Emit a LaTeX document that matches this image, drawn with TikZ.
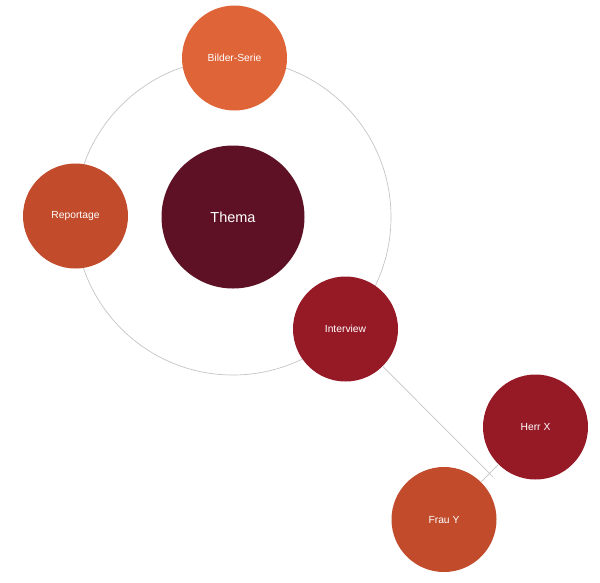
\documentclass[tikz,border=0pt]{standalone}
\usepackage{fontspec}
\setmainfont{Liberation Sans}
\definecolor{cThema}{HTML}{5E1124}
\definecolor{cBilder}{HTML}{DF6438}
\definecolor{cRep}{HTML}{C14B2B}
\definecolor{cInt}{HTML}{961A26}
\definecolor{cLine}{HTML}{C4C4C4}
\begin{document}
\begin{tikzpicture}[x=1pt,y=-1pt,
  bubble/.style={circle,inner sep=0pt,minimum size=105pt,text=white,font=\fontsize{10.3}{12}\selectfont},
  link/.style={draw=cLine,line width=0.7pt}]
\useasboundingbox (0,0) rectangle (600,582);
\coordinate (ctr) at (233,217);
\draw[link] (ctr) circle[radius=158];
\coordinate (junc) at (493,477);
\node[bubble,fill=cInt] (int) at (345.5,329) {Interview};
\node[bubble,fill=cInt] (herr) at (535.5,427) {Herr X};
\node[bubble,fill=cRep] (frau) at (444,519.5) {Frau Y};
\draw[link] (int) -- (junc);
\draw[link] (herr) -- (frau);
\node[bubble,fill=cThema,minimum size=143pt,font=\fontsize{14.5}{18}\selectfont] (thema) at (ctr) {Thema};
\node[bubble,fill=cBilder] (bilder) at (234.5,58) {Bilder-Serie};
\node[bubble,fill=cRep] (rep) at (75.5,216) {Reportage};
\end{tikzpicture}
\end{document}
